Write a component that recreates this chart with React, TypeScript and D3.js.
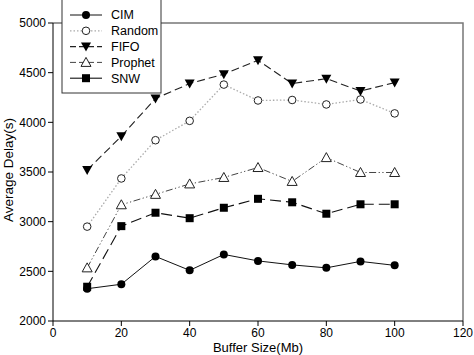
import React from "react";
import * as d3 from "d3";

const bufferSizes = [10, 20, 30, 40, 50, 60, 70, 80, 90, 100];
const cim = [2325, 2370, 2650, 2510, 2670, 2605, 2565, 2535, 2600, 2560];
const random = [2950, 3435, 3820, 4015, 4380, 4220, 4225, 4180, 4230, 4090];
const fifo = [3520, 3860, 4240, 4390, 4485, 4625, 4390, 4440, 4315, 4400];
const prophet = [2535, 3170, 3275, 3380, 3445, 3545, 3405, 3645, 3495, 3495];
const snw = [2345, 2955, 3090, 3035, 3140, 3230, 3195, 3080, 3175, 3175];
const xTicks = [0, 20, 40, 60, 80, 100, 120];
const yTicks = [2000, 2500, 3000, 3500, 4000, 4500, 5000];

type Marker = "circle" | "openCircle" | "downTri" | "upTri" | "square";
const seriesList: { name: string; values: number[]; marker: Marker; dash: string; color: string; width: number }[] = [
  { name: "CIM", values: cim, marker: "circle", dash: "", color: "#111", width: 1 },
  { name: "Random", values: random, marker: "openCircle", dash: "1.5,2", color: "#aaa", width: 1.3 },
  { name: "FIFO", values: fifo, marker: "downTri", dash: "8,4", color: "#222", width: 1.1 },
  { name: "Prophet", values: prophet, marker: "upTri", dash: "7,2.5,1.2,2.5,1.2,2.5", color: "#444", width: 1 },
  { name: "SNW", values: snw, marker: "square", dash: "11,5", color: "#111", width: 1.1 },
];

const W = 474, H = 355;
const L = 53, R = 463, T = 23, B = 321;

function MarkerShape({ type, x, y }: { type: Marker; x: number; y: number }) {
  switch (type) {
    case "circle":
      return <circle cx={x} cy={y} r={4} fill="#000" />;
    case "openCircle":
      return <circle cx={x} cy={y} r={3.8} fill="#fff" stroke="#222" strokeWidth={1} />;
    case "downTri":
      return <path d={`M${x - 5},${y - 4} L${x + 5},${y - 4} L${x},${y + 5} Z`} fill="#000" />;
    case "upTri":
      return <path d={`M${x},${y - 5} L${x + 5},${y + 4} L${x - 5},${y + 4} Z`} fill="#fff" stroke="#222" strokeWidth={1} />;
    case "square":
      return <rect x={x - 4} y={y - 4} width={8} height={8} fill="#000" />;
  }
}

export default function App() {
  const x = d3.scaleLinear().domain([0, 120]).range([L, R]);
  const y = d3.scaleLinear().domain([2000, 5000]).range([B, T]);
  const line = d3.line<number>().x((_, i) => x(bufferSizes[i])).y((d) => y(d));
  const font = "Liberation Sans, Arial, sans-serif";

  return (
    <svg width={W} height={H} style={{ position: "absolute", left: 0, top: 0 }} fontFamily={font}>
      <rect width={W} height={H} fill="#fff" />
      {/* frame top/right */}
      <path d={`M${L},${T} H${R} V${B}`} fill="none" stroke="#777" strokeWidth={1.5} />
      {/* axes */}
      <line x1={L} y1={T} x2={L} y2={B} stroke="#000" strokeWidth={1} />
      <line x1={L} y1={B} x2={R} y2={B} stroke="#000" strokeWidth={1} />
      {yTicks.map((t) => (
        <g key={"y" + t}>
          <line x1={L - 5} x2={L} y1={y(t)} y2={y(t)} stroke="#000" />
          <text x={L - 7} y={y(t)} dy="0.35em" textAnchor="end" fontSize={12}>{t}</text>
        </g>
      ))}
      {xTicks.map((t) => (
        <g key={"x" + t}>
          <line x1={x(t)} x2={x(t)} y1={B} y2={B + 5} stroke="#000" />
          <text x={x(t)} y={B + 16} textAnchor="middle" fontSize={12}>{t}</text>
        </g>
      ))}
      <text x={258} y={352} textAnchor="middle" fontSize={13}>Buffer Size(Mb)</text>
      <text transform={`translate(13,170) rotate(-90)`} textAnchor="middle" fontSize={13.5}>Average Delay(s)</text>

      {seriesList.map((s) => (
        <g key={s.name}>
          <path d={line(s.values) || ""} fill="none" stroke={s.color} strokeWidth={s.width} strokeDasharray={s.dash || undefined} />
          {s.values.map((v, i) => (
            <MarkerShape key={i} type={s.marker} x={x(bufferSizes[i])} y={y(v)} />
          ))}
        </g>
      ))}

      {/* legend */}
      <rect x={62} y={-2} width={99} height={95} fill="#fff" stroke="#333" strokeWidth={1} />
      {seriesList.map((s, i) => {
        const ly = 15 + i * 15.8;
        return (
          <g key={"lg" + s.name}>
            <line x1={70} x2={102} y1={ly} y2={ly} stroke={s.color} strokeWidth={s.width}
              strokeDasharray={s.name === "SNW" ? undefined : s.name === "FIFO" ? "6,3" : s.name === "Prophet" ? "6,3" : s.dash || undefined} />
            <MarkerShape type={s.marker} x={86} y={ly} />
            <text x={111} y={ly} dy="0.35em" fontSize={12.5}>{s.name}</text>
          </g>
        );
      })}
    </svg>
  );
}
